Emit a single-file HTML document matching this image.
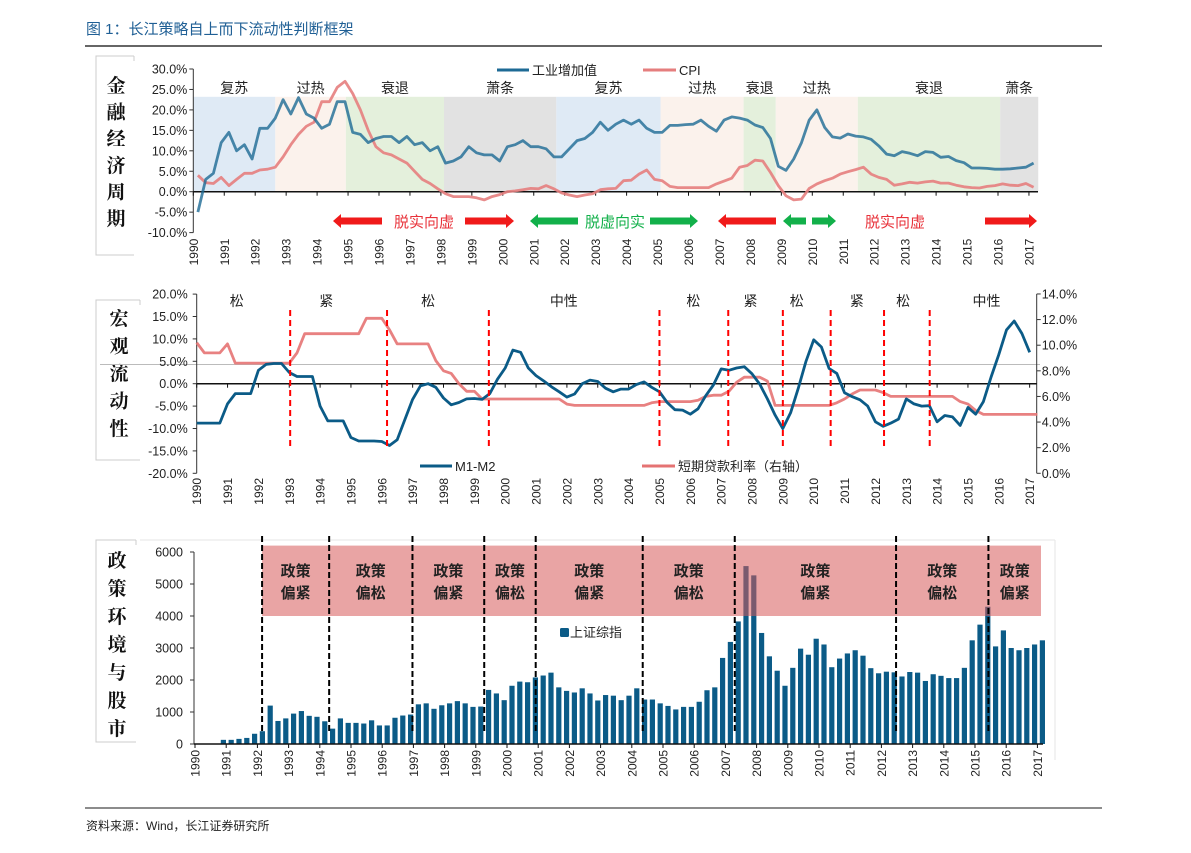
<!DOCTYPE html>
<html><head><meta charset="utf-8">
<style>
html,body{margin:0;padding:0;background:#fff;}
svg{display:block;font-family:"Liberation Sans","Noto Sans CJK SC",sans-serif;}
</style></head>
<body>
<svg id="s" width="1191" height="853" viewBox="0 0 1191 853" xmlns="http://www.w3.org/2000/svg">
<text x="86" y="34" font-size="15" fill="#1f5f95">图 1：长江策略自上而下流动性判断框架</text>
<line x1="85" y1="46" x2="1102" y2="46" stroke="#666" stroke-width="2"/>
<line x1="85" y1="808" x2="1102" y2="808" stroke="#666" stroke-width="1.5"/>
<text x="86" y="830" font-size="12" fill="#222">资料来源：Wind，长江证券研究所</text>
<g id="root"></g>
</svg>
<script>
// ===== Data =====
// Top chart (quarterly from 1990.15)
var iavValues=[-5,3,4.5,12, 14.5,10,11.5,8, 15.5,15.5,18,22.5, 19,23,19,18, 15.5,16.5,22,22, 14.5,14,12,13, 13.5,13.5,12,13.5, 11.5,12,10,11, 7,7.5,8.5,11, 9.5,9,9,7.5, 11,11.5,12.5,11, 11,10.5,8.5,8.5, 10.5,12.5,13,14.5, 17,15,16.5,17.5, 16.5,17.5,15.5,14.5, 14.5,16.2,16.2,16.4, 16.5,17.5,16,14.8, 17.5,18.3,18,17.5, 16.3,15.7,13,6.2, 5.2,8,12,17.5, 20,15.7,13.4,13.1, 14.1,13.6,13.4,12.8, 11.2,9.2,8.8,9.8, 9.4,8.8,9.8,9.6, 8.4,8.6,7.6,7.1, 5.8,5.8,5.7,5.5, 5.5,5.6,5.8,6, 7];
var cpiValues=[4,2.2,2,3.5, 1.5,3,4.5,4.5, 5.3,5.5,6,8.5, 11.5,14,16,17, 22,22,25.5,27, 24,20,15,11, 9.5,9,8,7, 5,3,2,0.7, -0.5,-1.2,-1.2,-1.2, -1.5,-2,-1.2,-0.7, 0,0.2,0.5,0.8, 0.7,1.5,0.7,-0.3, -0.8,-1.2,-0.8,-0.5, 0.5,0.7,0.8,2.7, 2.8,4.3,5.3,3, 2.7,1.3,1,1, 1,1,1,1.9, 2.6,3.3,6,6.4, 7.7,7.5,4.7,1.5, -1,-2,-1.8,0.8, 1.9,2.7,3.3,4.3, 4.9,5.4,6,4.3, 3.5,3,1.6,1.9, 2.3,2.1,2.4,2.6, 2.1,2.1,1.6,1.2, 1,0.9,1.3,1.5, 1.9,1.6,1.5,2, 1.1];
var topTicks=[30,25,20,15,10,5,0,-5,-10];
var phaseNames=["复苏","过热","衰退","萧条","复苏","过热","衰退","过热","衰退","萧条"];
var phaseStart=[1990,1992.65,1994.93,1998.1,2001.73,2005.1,2007.78,2008.82,2011.47,2016.07];
var phaseEnd=[1992.65,1994.93,1998.1,2001.73,2005.1,2007.78,2008.82,2011.47,2016.07,2017.3];
var phaseKind=["rec","hot","dn","dep","rec","hot","dn","hot","dn","dep"];
// Middle chart (quarterly from 1990.0)
var m1m2Values=[-8.8,-8.8,-8.8,-8.8, -4.5,-2.2,-2.2,-2.2, 3,4.3,4.5,4.5, 2.5,1.6,1.6,1.6, -5,-8.3,-8.3,-8.3, -12,-12.8,-12.8,-12.8, -12.9,-13.8,-12.5,-8, -3.5,-0.5,0,-0.8, -3.2,-4.7,-4.2,-3.4, -3.3,-3.5,-2.2,1, 3.5,7.5,7,3.5, 1.8,0.6,-0.7,-1.8, -3,-2.3,0,0.8, 0.5,-1,-1.8,-1.2, -1.2,-0.2,0.4,-0.8, -1.8,-4.2,-5.8,-5.9, -6.8,-5.6,-2.7,-0.3, 3.3,3,3.5,3.8, 2.2,-0.1,-3.4,-7, -10,-6.5,-1,5, 9.8,8.2,3.4,2.3, -2,-2.9,-3.6,-5, -8.5,-9.5,-8.8,-7.9, -3.4,-4.5,-5,-4.9, -8.5,-7.1,-7.4,-9.3, -5.3,-6.8,-4,1.5, 6.5,12,14,11.2, 7];
var rateValues=[10.2,9.4,9.4,9.4, 10.1,8.6,8.6,8.6, 8.6,8.6,8.6,8.6, 8.6,9.4,10.9,10.9, 10.9,10.9,10.9,10.9, 10.9,10.9,12.1,12.1, 12.1,11.2,10.1,10.1, 10.1,10.1,10.1,8.8, 8.0,7.8,7.0,6.4, 6.4,5.8,5.8,5.8, 5.8,5.8,5.8,5.8, 5.8,5.8,5.8,5.8, 5.4,5.3,5.3,5.3, 5.3,5.3,5.3,5.3, 5.3,5.3,5.3,5.5, 5.6,5.6,5.6,5.6, 5.6,5.7,6.0,6.1, 6.1,6.4,7.1,7.5, 7.5,7.5,7.2,5.3, 5.3,5.3,5.3,5.3, 5.3,5.3,5.3,5.5, 5.8,6.2,6.5,6.5, 6.5,6.3,6.0,6.0, 6.0,6.0,6.0,6.0, 6.0,6.0,6.0,5.6, 5.4,4.9,4.6,4.6, 4.6,4.6,4.6,4.6, 4.6,4.6];
var midLeftTicks=[20,15,10,5,0,-5,-10,-15,-20];
var midRightTicks=[14,12,10,8,6,4,2,0];
var stanceNames=["松","紧","松","中性","松","紧","松","紧","松","中性"];
var stanceAt=[1991.3,1994.2,1997.5,2001.9,2006.1,2007.95,2009.45,2011.4,2012.9,2015.6];
var stanceBreaks=[1993.03,1996.17,1999.47,2005.0,2007.23,2009.0,2010.55,2012.28,2013.76];
// Bottom chart (quarterly from 1990.91)
var shValues=[130,130,160,190, 320,400,1200,720, 800,950,1030,880, 850,710,480,800, 660,660,640,740, 580,580,820,890, 920,1240,1270,1100, 1210,1270,1340,1270, 1160,1170,1690,1580, 1370,1820,1950,1930, 2080,2140,2230,1770, 1660,1610,1740,1580, 1360,1530,1510, 1370,1510,1740,1390,1390,1270,1190,1080,1160,1160, 1320,1680,1770,2690,3190,3830,5560,5270,3470,2740, 2290,1820,2380,2980,2790,3290,3110,2400,2670,2830, 2930,2760,2370,2210,2260,2240,2110,2250,2230,1970, 2180,2130,2060,2060,2380,3240,3730,4290,3050,3550, 3000,2930,3000,3110,3240];
var botTicks=[6000,5000,4000,3000,2000,1000,0];
var policyNames=["政策|偏紧","政策|偏松","政策|偏紧","政策|偏松","政策|偏紧","政策|偏松","政策|偏紧","政策|偏松","政策|偏紧"];
var policyBreaks=[1992.15,1994.3,1996.97,1999.27,2000.92,2004.35,2007.3,2012.47,2015.43,2017.2];
var years=[];for(var yy=1990;yy<=2017;yy++)years.push(yy);

var NS="http://www.w3.org/2000/svg";
var root=document.getElementById('root');
function mk(tag,attrs,parent,txt){var e=document.createElementNS(NS,tag);for(var k in attrs)e.setAttribute(k,attrs[k]);if(txt!=null)e.textContent=txt;(parent||root).appendChild(e);return e;}
function fmtPct(v){return v.toFixed(1)+"%";}

// ===== Side boxes =====
function sideBox(name,x1,y1,x2,y2,text,ty0,step){
  var g=mk('g',{});
  
  
  mk('path',{d:'M'+x2+' '+y1+' L'+x1+' '+y1+' L'+x1+' '+y2+' L'+x2+' '+y2+' M'+x2+' '+y1+' L'+x2+' '+(y1+5),fill:'none',stroke:'#ccc','stroke-width':1},g);
  for(var i=0;i<text.length;i++){
    mk('text',{x:(x1+x2)/2+1,y:ty0+i*step,'font-size':19,'text-anchor':'middle','font-family':'"Noto Serif CJK SC","Liberation Serif",serif','font-weight':'bold',fill:'#111'},g,text[i]);
  }
}
sideBox('cycle-section-label',96,56,134,255,"金融经济周期",92,26.6);
sideBox('liquidity-section-label',96,300,140,460,"宏观流动性",325,27.5);
sideBox('policy-section-label',96,540,136,742,"政策环境与股市",567,28);

// ===== Top chart =====
(function(){
  var x0=193.3,pyr=30.95,yz=191.7,p10=40.9;
  function X(t){return x0+(t-1990)*pyr;}
  function Y(v){return yz-v*p10/10;}
  var g=mk('g',{});
  
  
  var col={rec:'#dfeaf5',hot:'#fbf2ec',dn:'#e4f0dc',dep:'#e2e2e2'};
  for(var i=0;i<phaseNames.length;i++){
    var r=mk('rect',{x:X(phaseStart[i]),y:Y(23.2),width:X(phaseEnd[i])-X(phaseStart[i]),height:Y(0)-Y(23.2),fill:col[phaseKind[i]]},g);
    
    
    var t=mk('text',{x:(X(phaseStart[i])+X(phaseEnd[i]))/2,y:93,'font-size':14,'text-anchor':'middle',fill:'#222'},g,phaseNames[i]);
    
    
  }
  // y axis
  mk('line',{x1:x0,y1:Y(30),x2:x0,y2:Y(-10),stroke:'#333','stroke-width':1},g);
  for(var i=0;i<topTicks.length;i++){
    mk('line',{x1:x0-4,y1:Y(topTicks[i]),x2:x0,y2:Y(topTicks[i]),stroke:'#333'},g);
    var t=mk('text',{x:x0-6,y:Y(topTicks[i])+4.5,'font-size':12.5,'text-anchor':'end',fill:'#222'},g,fmtPct(topTicks[i]));
    
    
  }
  mk('line',{x1:x0,y1:yz,x2:1038,y2:yz,stroke:'#111','stroke-width':1.5},g);
  for(var i=0;i<years.length;i++){
    var xx=X(years[i]);
    mk('line',{x1:xx,y1:yz,x2:xx,y2:yz+4,stroke:'#111'},g);
    var t=mk('text',{x:0,y:0,'font-size':12,'text-anchor':'end',fill:'#222',transform:'translate('+(xx+4.5)+','+(yz+47)+') rotate(-90)'},g,years[i]);
    
    
  }
  function path(vals,t0){var d='';for(var i=0;i<vals.length;i++){d+=(i?'L':'M')+X(t0+i*0.25).toFixed(1)+' '+Y(vals[i]).toFixed(1)+' ';}return d;}
  var c=mk('path',{d:path(cpiValues,1990.15),fill:'none',stroke:'#e57e7e','stroke-width':2.8,'stroke-linejoin':'round','stroke-opacity':0.9},g);
  
  
  var b=mk('path',{d:path(iavValues,1990.15),fill:'none',stroke:'#1d6a95','stroke-width':2.8,'stroke-linejoin':'round','stroke-opacity':0.8},g);
  
  
  // legend
  var l1=mk('g',{},g);
  
  
  mk('line',{x1:497,y1:70,x2:529,y2:70,stroke:'#1d6a95','stroke-width':3},l1);
  mk('text',{x:532,y:75,'font-size':13,fill:'#222'},l1,"工业增加值");
  var l2=mk('g',{},g);
  
  
  mk('line',{x1:643,y1:70,x2:676,y2:70,stroke:'#e57e7e','stroke-width':3},l2);
  mk('text',{x:679,y:75,'font-size':13,fill:'#222'},l2,"CPI");
  // arrows
  function arrow(xa,xb,color,dir,name){
    var ag=mk('g',{},g);
    
    
    var y=221,h=3.5,hh=7,hl=8;
    var d;
    if(dir<0){d='M'+xa+' '+y+' L'+(xa+hl)+' '+(y-hh)+' L'+(xa+hl)+' '+(y-h)+' L'+xb+' '+(y-h)+' L'+xb+' '+(y+h)+' L'+(xa+hl)+' '+(y+h)+' L'+(xa+hl)+' '+(y+hh)+' Z';}
    else{d='M'+xb+' '+y+' L'+(xb-hl)+' '+(y-hh)+' L'+(xb-hl)+' '+(y-h)+' L'+xa+' '+(y-h)+' L'+xa+' '+(y+h)+' L'+(xb-hl)+' '+(y+h)+' L'+(xb-hl)+' '+(y+hh)+' Z';}
    mk('path',{d:d,fill:color},ag);
  }
  var red='#f01a1a',grn='#12b04a';
  arrow(333,382,red,-1,'arrow-left-red');
  arrow(465,514,red,1,'arrow-right-red');
  arrow(530,578,grn,-1,'arrow-left-green');
  arrow(650,698,grn,1,'arrow-right-green');
  arrow(718,776,red,-1,'arrow-left-red');
  arrow(783,806,grn,-1,'arrow-left-green');
  arrow(812,836,grn,1,'arrow-right-green');
  arrow(985,1037,red,1,'arrow-right-red');
  var a=mk('text',{x:424,y:227,'font-size':15,'text-anchor':'middle',fill:'#e8323a'},g,"脱实向虚");
  
  
  a=mk('text',{x:615,y:227,'font-size':15,'text-anchor':'middle',fill:'#12b04a'},g,"脱虚向实");
  
  
  a=mk('text',{x:895,y:227,'font-size':15,'text-anchor':'middle',fill:'#e8323a'},g,"脱实向虚");
  
  
})();

// ===== Middle chart =====
(function(){
  var x0=196.7,pyr=30.85,yz=383.7,p5=22.4,xr=1036.7;
  function X(t){return x0+(t-1990)*pyr;}
  function Y(v){return yz-v*p5/5;}
  function YR(v){return 473.3-v*12.81;}
  var g=mk('g',{});
  
  
  mk('line',{x1:100,y1:364.5,x2:1040,y2:364.5,stroke:'#bbb','stroke-width':1},g);
  mk('line',{x1:x0,y1:Y(20),x2:x0,y2:Y(-20),stroke:'#333'},g);
  for(var i=0;i<midLeftTicks.length;i++){
    mk('line',{x1:x0-4,y1:Y(midLeftTicks[i]),x2:x0,y2:Y(midLeftTicks[i]),stroke:'#333'},g);
    var t=mk('text',{x:x0-9,y:Y(midLeftTicks[i])+4.5,'font-size':12.5,'text-anchor':'end',fill:'#222'},g,fmtPct(midLeftTicks[i]));
    
    
  }
  mk('line',{x1:xr,y1:YR(14),x2:xr,y2:YR(0),stroke:'#333'},g);
  for(var i=0;i<midRightTicks.length;i++){
    mk('line',{x1:xr,y1:YR(midRightTicks[i]),x2:xr+4,y2:YR(midRightTicks[i]),stroke:'#333'},g);
    var t=mk('text',{x:xr+5,y:YR(midRightTicks[i])+4.5,'font-size':12.5,fill:'#222'},g,fmtPct(midRightTicks[i]));
    
    
  }
  mk('line',{x1:x0,y1:yz,x2:xr,y2:yz,stroke:'#111','stroke-width':1.5},g);
  for(var i=0;i<years.length;i++){
    var xx=X(years[i]);
    mk('line',{x1:xx,y1:yz,x2:xx,y2:yz+4,stroke:'#111'},g);
    var t=mk('text',{x:0,y:0,'font-size':12,'text-anchor':'end',fill:'#222',transform:'translate('+(xx+4.5)+',478) rotate(-90)'},g,years[i]);
    
    
  }
  for(var i=0;i<stanceNames.length;i++){
    var t=mk('text',{x:X(stanceAt[i]),y:306,'font-size':14,'text-anchor':'middle',fill:'#222'},g,stanceNames[i]);
    
    
  }
  function path(vals,Yf){var d='';for(var i=0;i<vals.length;i++){d+=(i?'L':'M')+X(1990+i*0.25).toFixed(1)+' '+Yf(vals[i]).toFixed(1)+' ';}return d;}
  var r=mk('path',{d:path(rateValues,YR),fill:'none',stroke:'#e57373','stroke-width':2.8,'stroke-linejoin':'round','stroke-opacity':0.9},g);
  
  
  var b=mk('path',{d:path(m1m2Values,Y),fill:'none',stroke:'#0b5b87','stroke-width':2.8,'stroke-linejoin':'round'},g);
  
  
  for(var i=0;i<stanceBreaks.length;i++){
    var l=mk('line',{x1:X(stanceBreaks[i]),y1:310,x2:X(stanceBreaks[i]),y2:446,stroke:'#f00','stroke-width':2,'stroke-dasharray':'6,4'},g);
    
    
  }
  var l1=mk('g',{},g);
  
  
  mk('line',{x1:420,y1:466,x2:452,y2:466,stroke:'#0b5b87','stroke-width':3},l1);
  mk('text',{x:455,y:471,'font-size':13,fill:'#222'},l1,"M1-M2");
  var l2=mk('g',{},g);
  
  
  mk('line',{x1:642,y1:466,x2:675,y2:466,stroke:'#e57373','stroke-width':3},l2);
  mk('text',{x:678,y:471,'font-size':13,fill:'#222'},l2,"短期贷款利率（右轴）");
})();

// ===== Bottom chart =====
(function(){
  var x0=195,pyr=31.2,yz=744,p1k=32;
  function X(t){return x0+(t-1990)*pyr;}
  function Y(v){return yz-v*p1k/1000;}
  var g=mk('g',{});
  
  
  mk('line',{x1:140,y1:540,x2:1055,y2:540,stroke:'#e6e6e6'},g);
  mk('line',{x1:1055,y1:540,x2:1055,y2:760,stroke:'#e6e6e6'},g);
  mk('line',{x1:194,y1:Y(6000),x2:194,y2:yz,stroke:'#333'},g);
  for(var i=0;i<botTicks.length;i++){
    mk('line',{x1:190,y1:Y(botTicks[i]),x2:194,y2:Y(botTicks[i]),stroke:'#333'},g);
    var t=mk('text',{x:183,y:Y(botTicks[i])+4.5,'font-size':12.5,'text-anchor':'end',fill:'#222'},g,botTicks[i]);
    
    
  }
  for(var i=0;i<shValues.length;i++){
    var cx=X(1990.91+i*0.25);
    var r=mk('rect',{x:cx-2.6,y:Y(shValues[i]),width:5.2,height:yz-Y(shValues[i]),fill:'#0b5b87'},g);
    
    
  }
  var band=mk('rect',{x:X(policyBreaks[0]),y:Y(6200),width:1041-X(policyBreaks[0]),height:Y(4000)-Y(6200),fill:'#d75a5a','fill-opacity':0.55},g);
  
  
  for(var i=0;i<policyNames.length;i++){
    var xa=X(policyBreaks[i]),xb=(i==policyNames.length-1)?1041:X(policyBreaks[i+1]);
    var parts=policyNames[i].split('|');
    var t=mk('text',{x:(xa+xb)/2,y:576,'font-size':15,'text-anchor':'middle','font-weight':'bold',fill:'#222'},g,parts[0]);
    
    
    var t2=mk('text',{x:(xa+xb)/2,y:598,'font-size':15,'text-anchor':'middle','font-weight':'bold',fill:'#222'},g,parts[1]);
    
    
  }
  for(var i=0;i<policyBreaks.length-1;i++){
    var l=mk('line',{x1:X(policyBreaks[i]),y1:536,x2:X(policyBreaks[i]),y2:732,stroke:'#000','stroke-width':2,'stroke-dasharray':'6,3'},g);
    
    
  }
  mk('line',{x1:194,y1:yz,x2:1043,y2:yz,stroke:'#111','stroke-width':1.5},g);
  for(var i=0;i<years.length;i++){
    var xx=X(years[i]);
    mk('line',{x1:xx,y1:yz,x2:xx,y2:yz+4,stroke:'#111'},g);
    var t=mk('text',{x:0,y:0,'font-size':12,'text-anchor':'end',fill:'#222',transform:'translate('+(xx+4.5)+',750) rotate(-90)'},g,years[i]);
    
    
  }
  var lg=mk('g',{},g);
  
  
  mk('rect',{x:560,y:628,width:9,height:9,fill:'#0b5b87',rx:1.5},lg);
  mk('text',{x:570,y:637,'font-size':13,fill:'#222'},lg,"上证综指");
})();
</script>
</body></html>
